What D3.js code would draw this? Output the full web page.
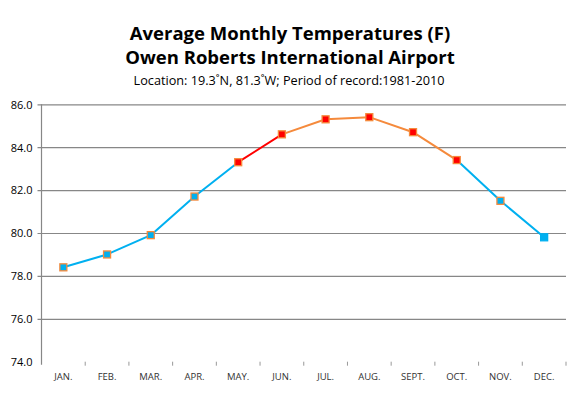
<!DOCTYPE html>
<meta charset="utf-8">
<style>
body{margin:0;background:#fff;}
svg{display:block;}
.title{font-family:"Open Sans",Lato,sans-serif;font-weight:bold;fill:#000;}
.sub{font-family:"Open Sans",Lato,sans-serif;fill:#000;}
.yaxis text{font-family:"Open Sans",Lato,sans-serif;font-size:11px;fill:#000;}
.xlab{font-family:"Open Sans",Lato,sans-serif;font-size:9.5px;fill:#333;}
</style>
<body>
<script src="https://d3js.org/d3.v7.min.js"></script>
<script>

var months = ["JAN.","FEB.","MAR.","APR.","MAY.","JUN.","JUL.","AUG.","SEPT.","OCT.","NOV.","DEC."];
var temps = [78.4, 79.0, 79.9, 81.7, 83.3, 84.6, 85.3, 85.4, 84.7, 83.4, 81.5, 79.8];
var yTicks = [74, 76, 78, 80, 82, 84, 86];

var titleLines = ["Average Monthly Temperatures (F)", "Owen Roberts International Airport"];
var subtitle = "Location: 19.3\u02daN, 81.3\u02daW; Period of record:1981-2010";

var blue = "#00b0f0", red = "#ff0000", orange = "#f58a3c";

// hot months drawn red/orange, rest blue
function segColor(i){
	if(i == 4) return red;
	if(i >= 5 && i <= 8) return orange;
	return blue;
}
function markFill(i){ return (i >= 4 && i <= 9) ? red : blue; }
function markStroke(i){ return i == 11 ? blue : orange; }

var W = 580, H = 400;
var plotL = 41.5, plotR = 566, plotT = 104.3, plotB = 361.7;

var svg = d3.select("body").append("svg").attr("width", W).attr("height", H);

svg.selectAll(".title").data(titleLines).enter().append("text")
	.attr("class","title")
	.attr("x", 290)
	.attr("y", (d,i)=>40 + i*24)
	.attr("text-anchor","middle")
	.style("font-size","18.5px")
	.text(d=>d);

svg.append("text").attr("class","sub")
	.attr("x", 289).attr("y", 85)
	.attr("text-anchor","middle")
	.style("font-size","12.7px")
	.text(subtitle);

var x = d3.scaleBand().domain(months).range([plotL, plotR]);
var y = d3.scaleLinear().domain([74, 86]).range([plotB, plotT]);

// y axis + gridlines
var yAxis = d3.axisLeft(y).tickValues(yTicks).tickFormat(d3.format(".1f"))
	.tickSize(-(plotR - plotL)).tickSizeOuter(0).tickPadding(9);
var gy = svg.append("g").attr("class","yaxis").attr("transform","translate(" + plotL + ",0)").call(yAxis);
gy.select(".domain").remove();
gy.selectAll(".tick line").attr("x1", -4).attr("stroke","#878787").attr("stroke-width",1.2);
gy.selectAll(".tick").filter(d=>d == 74).select("line").remove();
gy.selectAll(".tick text").attr("dy","0.35em");

svg.append("line")
	.attr("x1", plotL).attr("x2", plotL)
	.attr("y1", plotT).attr("y2", plotB + 3)
	.attr("stroke","#878787").attr("stroke-width",1.2);

// x ticks at band boundaries
var bounds = months.slice(1).map(m=>x(m)).concat([plotR]);
svg.selectAll(".xtick").data(bounds).enter().append("line")
	.attr("x1", d=>d).attr("x2", d=>d)
	.attr("y1", plotB).attr("y2", plotB + 4)
	.attr("stroke","#999");

svg.selectAll(".xlab").data(months).enter().append("text")
	.attr("class","xlab")
	.attr("x", d=>x(d) + x.bandwidth()/2)
	.attr("y", 380)
	.attr("text-anchor","middle")
	.text(d=>d);

var cx = d=>x(d) + x.bandwidth()/2;

// line segments, each coloured on its own
var segs = d3.range(months.length - 1);
svg.selectAll(".seg").data(segs).enter().append("line")
	.attr("x1", i=>cx(months[i])).attr("y1", i=>y(temps[i]))
	.attr("x2", i=>cx(months[i+1])).attr("y2", i=>y(temps[i+1]))
	.attr("stroke", i=>segColor(i))
	.attr("stroke-width", 2)
	.attr("stroke-linecap","round");

var ms = 7;
svg.selectAll(".mark").data(temps).enter().append("rect")
	.attr("x", (d,i)=>cx(months[i]) - ms/2)
	.attr("y", d=>y(d) - ms/2)
	.attr("width", ms).attr("height", ms)
	.attr("fill", (d,i)=>markFill(i))
	.attr("stroke", (d,i)=>markStroke(i))
	.attr("stroke-width", 1.3);

</script>
</body>
